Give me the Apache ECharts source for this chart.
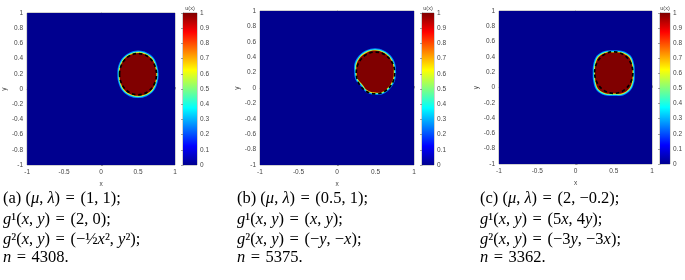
<!DOCTYPE html>
<html><head><meta charset="utf-8">
<script src="https://cdn.jsdelivr.net/npm/echarts@6/dist/echarts.min.js"></script>
<style>html,body{margin:0;padding:0;background:#fff}#c{width:685px;height:280px}</style>
</head><body><div id="c"></div>
<script>
// ---------------- data ----------------
const axisRange = [-1, 1];
const xInterval = 0.5;
const yInterval = 0.2;
const colorRange = [0, 1];
const colorInterval = 0.1;
const colorbarTitle = 'u(x)';

// boundary of computed region (radius at each angle)
const angles = [0, 22.5, 45, 67.5, 90, 112.5, 135, 157.5, 180, 202.5, 225, 247.5, 270, 292.5, 315, 337.5];
const centerA = [0.5, 0.195];
const radiiA = [0.248, 0.252, 0.272, 0.278, 0.28, 0.275, 0.27, 0.258, 0.25, 0.258, 0.275, 0.283, 0.285, 0.283, 0.275, 0.255];
const centerB = [0.495, 0.213];
const radiiB = [0.242, 0.25, 0.26, 0.268, 0.273, 0.27, 0.266, 0.258, 0.242, 0.245, 0.235, 0.263, 0.273, 0.278, 0.263, 0.252];
const centerC = [0.5, 0.19];
const radiiC = [0.245, 0.26, 0.286, 0.28, 0.266, 0.282, 0.286, 0.26, 0.245, 0.26, 0.29, 0.286, 0.27, 0.288, 0.286, 0.262];

const outsideValue = 0;
const insideValue = 1;
// transition band: distance outside the boundary and its value
const fringeOffsets = [0.03, 0.018, 0.008];
const fringeValues = [0.25, 0.42, 0.65];

// exact interface (dashed)
const exactShape = [0.5, 0.195, 0.25, 0.272];

const EQ = '\u2004=\u2004';
const captionA = ['(a) ({i|μ}, {i|λ})' + EQ + '(1, 1);', '{i|g}¹({i|x}, {i|y})' + EQ + '(2, 0);', '{i|g}²({i|x}, {i|y})' + EQ + '(−½{i|x}², {i|y}²);', '{i|n}' + EQ + '4308.'];
const captionB = ['(b) ({i|μ}, {i|λ})' + EQ + '(0.5, 1);', '{i|g}¹({i|x}, {i|y})' + EQ + '({i|x}, {i|y});', '{i|g}²({i|x}, {i|y})' + EQ + '(−{i|y}, −{i|x});', '{i|n}' + EQ + '5375.'];
const captionC = ['(c) ({i|μ}, {i|λ})' + EQ + '(2, −0.2);', '{i|g}¹({i|x}, {i|y})' + EQ + '(5{i|x}, 4{i|y});', '{i|g}²({i|x}, {i|y})' + EQ + '(−3{i|y}, −3{i|x});', '{i|n}' + EQ + '3362.'];

// ---------------- layout / style ----------------
const panels = [
  {center: centerA, radii: radiiA, caption: captionA, plot: [22, 13, 153, 152], bar: [183, 13, 14, 152], capX: 3},
  {center: centerB, radii: radiiB, caption: captionB, plot: [260, 11, 154, 154], bar: [422, 11, 12, 154], capX: 237},
  {center: centerC, radii: radiiC, caption: captionC, plot: [499, 11, 153, 153], bar: [660, 11, 12, 153], capX: 480}
];
const capLineY = [199, 219.5, 239.5, 258];
const capFont = 16.5;

const jetStops = [[0, [0, 0, 143]], [0.125, [0, 0, 255]], [0.375, [0, 255, 255]], [0.625, [255, 255, 0]], [0.875, [255, 0, 0]], [1, [128, 0, 0]]];
function jet(v) {
  for (let i = 1; i < jetStops.length; i++) {
    if (v <= jetStops[i][0]) {
      const a = jetStops[i - 1], b = jetStops[i];
      const t = (v - a[0]) / (b[0] - a[0]);
      const c = a[1].map((x, k) => Math.round(x + (b[1][k] - x) * t));
      return 'rgb(' + c.join(',') + ')';
    }
  }
  return 'rgb(128,0,0)';
}
const labelColor = '#444';
const tickFont = 6.5;

const grids = [], xAxes = [], yAxes = [], series = [], graphics = [];
panels.forEach((p, i) => {
  grids.push({left: p.plot[0], top: p.plot[1], width: p.plot[2], height: p.plot[3], show: true, borderColor: '#666', borderWidth: 0.6});
  grids.push({left: p.bar[0], top: p.bar[1], width: p.bar[2], height: p.bar[3], show: true, borderColor: '#666', borderWidth: 0.6});
  const gm = 2 * i, gb = 2 * i + 1;
  xAxes.push({type: 'value', gridIndex: gm, min: axisRange[0], max: axisRange[1], interval: xInterval,
    axisLine: {show: true, lineStyle: {color: '#666', width: 0.6}},
    axisTick: {show: true, inside: true, length: 2, lineStyle: {color: '#666', width: 0.6}},
    axisLabel: {fontSize: tickFont, color: labelColor, margin: 4, fontFamily: 'Liberation Sans'},
    splitLine: {show: false},
    name: 'x', nameLocation: 'middle', nameGap: 13, nameTextStyle: {fontSize: tickFont, color: labelColor, fontFamily: 'Liberation Sans'}});
  yAxes.push({type: 'value', gridIndex: gm, min: axisRange[0], max: axisRange[1], interval: yInterval,
    axisLine: {show: true, lineStyle: {color: '#666', width: 0.6}},
    axisTick: {show: true, inside: true, length: 2, lineStyle: {color: '#666', width: 0.6}},
    axisLabel: {fontSize: tickFont, color: labelColor, margin: 4, fontFamily: 'Liberation Sans'},
    splitLine: {show: false},
    name: 'y', nameLocation: 'middle', nameGap: 15, nameRotate: 90, nameTextStyle: {fontSize: tickFont, color: labelColor, fontFamily: 'Liberation Sans'}});
  xAxes.push({type: 'value', gridIndex: gb, min: 0, max: 1, position: 'top',
    axisLine: {show: false}, axisTick: {show: false}, axisLabel: {show: false}, splitLine: {show: false},
    name: colorbarTitle, nameLocation: 'middle', nameGap: 2, nameTextStyle: {fontSize: 5.5, color: labelColor, fontFamily: 'Liberation Sans'}});
  yAxes.push({type: 'value', gridIndex: gb, min: colorRange[0], max: colorRange[1], interval: colorInterval, position: 'right',
    axisLine: {show: true, lineStyle: {color: '#666', width: 0.6}},
    axisTick: {show: true, inside: true, length: 2, lineStyle: {color: '#666', width: 0.6}},
    axisLabel: {fontSize: tickFont, color: labelColor, margin: 3, fontFamily: 'Liberation Sans'},
    splitLine: {show: false}});

  // background field (value 0)
  series.push({type: 'custom', xAxisIndex: gm, yAxisIndex: gm, silent: true, clip: true,
    data: [[axisRange[0], axisRange[0], axisRange[1], axisRange[1], outsideValue]],
    renderItem: (params, api) => {
      const a = api.coord([api.value(0), api.value(3)]);
      const b = api.coord([api.value(2), api.value(1)]);
      return {type: 'rect', shape: {x: a[0], y: a[1], width: b[0] - a[0], height: b[1] - a[1]}, style: {fill: jet(api.value(4))}};
    }});
  // transition band + computed region
  const layers = fringeOffsets.map((o, k) => [o, fringeValues[k]]).concat([[0, insideValue]]);
  series.push({type: 'custom', xAxisIndex: gm, yAxisIndex: gm, silent: true, clip: true,
    data: layers,
    renderItem: (params, api) => {
      const off = api.value(0), val = api.value(1);
      const pts = angles.map((a, k) => {
        const r = p.radii[k] + off, t = a * Math.PI / 180;
        return api.coord([p.center[0] + r * Math.cos(t), p.center[1] + r * Math.sin(t)]);
      });
      return {type: 'polygon', shape: {points: pts, smooth: 0.35}, style: {fill: jet(val)}};
    }});
  // exact interface
  series.push({type: 'custom', xAxisIndex: gm, yAxisIndex: gm, silent: true, clip: true,
    data: [exactShape],
    renderItem: (params, api) => {
      const c = api.coord([api.value(0), api.value(1)]);
      const s = api.size([api.value(2), api.value(3)]);
      return {type: 'ellipse', shape: {cx: c[0], cy: c[1], rx: s[0], ry: s[1]},
        style: {fill: 'none', stroke: '#000', lineWidth: 1.7, lineDash: [3.5, 2.8]}};
    }});
  // colorbar
  series.push({type: 'custom', xAxisIndex: gb, yAxisIndex: gb, silent: true,
    data: [[0, colorRange[0], 1, colorRange[1]]],
    renderItem: (params, api) => {
      const a = api.coord([api.value(0), api.value(3)]);
      const b = api.coord([api.value(2), api.value(1)]);
      const stops = jetStops.map(s => ({offset: 1 - s[0], color: jet(s[0])})).reverse();
      return {type: 'rect', shape: {x: a[0], y: a[1], width: b[0] - a[0], height: b[1] - a[1]},
        style: {fill: new echarts.graphic.LinearGradient(0, 0, 0, 1, stops)}};
    }});
  // caption
  p.caption.forEach((line, k) => {
    graphics.push({type: 'text', x: p.capX, y: capLineY[k], silent: true,
      style: {text: line, x: 0, y: 0, verticalAlign: 'middle', align: 'left',
        font: capFont + 'px "Liberation Serif"', fill: '#000',
        rich: {i: {fontStyle: 'italic', fontSize: capFont, fontFamily: 'Liberation Serif'}}}});
  });
});

const chart = echarts.init(document.getElementById('c'), null, {renderer: 'canvas'});
chart.setOption({animation: false, backgroundColor: '#fff', grid: grids, xAxis: xAxes, yAxis: yAxes, series: series, graphic: graphics});
</script></body></html>
